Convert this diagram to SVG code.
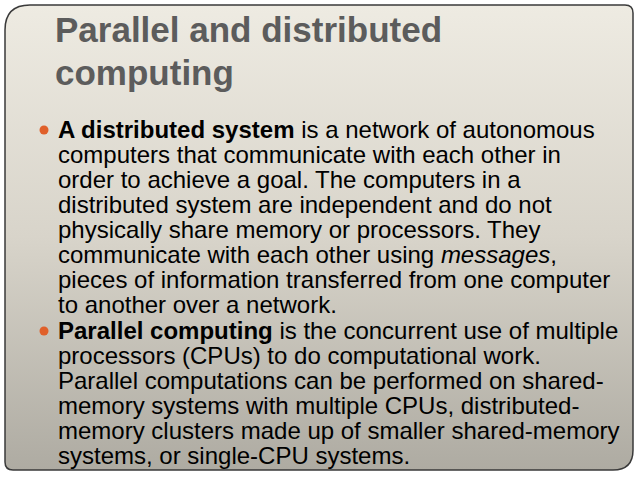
<svg xmlns="http://www.w3.org/2000/svg" width="638" height="478" viewBox="0 0 638 478">
<defs>
<linearGradient id="bg" x1="0" y1="0" x2="0" y2="1">
<stop offset="0" stop-color="#eeebe2"/><stop offset="0.5" stop-color="#d8d4ca"/><stop offset="1" stop-color="#aeaba2"/>
</linearGradient>
<style>
.t{font-family:"Liberation Sans",Arial,sans-serif;font-weight:bold;font-size:35px;fill:#5c5c5c}
.b{font-family:"Liberation Sans",Arial,sans-serif;font-size:24px;fill:#000}
.d{fill:#e0602a}
</style>
</defs>
<rect width="638" height="478" fill="#fff"/>
<path id="frame" d="M30 5 H625 Q633 5 633 13 V450 Q633 470 613 470 H13 Q5 470 5 462 V30 Q5 5 30 5 Z" fill="url(#bg)" stroke="#3a3a3a" stroke-width="1.5"/>
<g id="title">
<text class="t" x="55" y="42">Parallel and distributed</text>
<text class="t" x="55" y="85">computing</text>
</g>
<g id="body">
<circle class="d" cx="44" cy="130" r="4.5"/>
<circle class="d" cx="44" cy="331" r="4.5"/>
<text class="b" x="58" y="138"><tspan font-weight="bold">A distributed system</tspan> is a network of autonomous</text>
<text class="b" x="58" y="163">computers that communicate with each other in</text>
<text class="b" x="58" y="188">order to achieve a goal. The computers in a</text>
<text class="b" x="58" y="213">distributed system are independent and do not</text>
<text class="b" x="58" y="238">physically share memory or processors. They</text>
<text class="b" x="58" y="263">communicate with each other using <tspan font-style="italic">messages</tspan>,</text>
<text class="b" x="58" y="288">pieces of information transferred from one computer</text>
<text class="b" x="58" y="313">to another over a network.</text>
<text class="b" x="58" y="339"><tspan font-weight="bold">Parallel computing</tspan> is the concurrent use of multiple</text>
<text class="b" x="58" y="364">processors (CPUs) to do computational work.</text>
<text class="b" x="58" y="389">Parallel computations can be performed on shared-</text>
<text class="b" x="58" y="414">memory systems with multiple CPUs, distributed-</text>
<text class="b" x="58" y="439">memory clusters made up of smaller shared-memory</text>
<text class="b" x="58" y="464">systems, or single-CPU systems.</text>
</g>
</svg>
